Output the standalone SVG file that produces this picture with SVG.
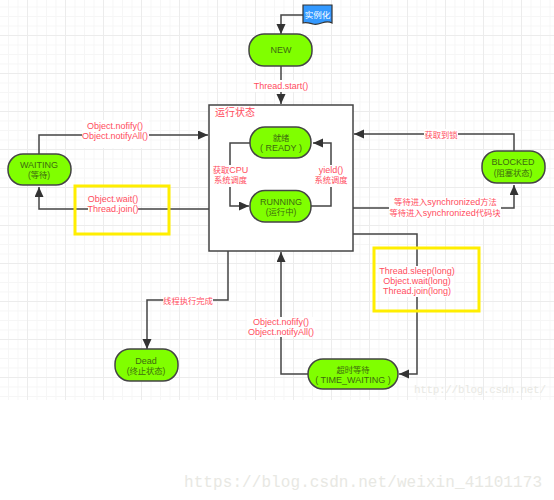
<svg xmlns="http://www.w3.org/2000/svg" width="554" height="500" viewBox="0 0 554 500">
<defs>
<style>
.n{fill:#80ff00;stroke:#444;stroke-width:1.5}
.c{fill:none;stroke:#444;stroke-width:1.5}
.t{font-family:"Liberation Sans","Noto Sans CJK SC",sans-serif;font-size:9px;text-anchor:middle}
.k{font-size:8.3px}
.g{fill:#3d6b10}
.r{fill:#ff4d5e}
.b{fill:#fff;stroke:none}
.wm{font-family:"Liberation Mono",monospace;fill:#e8e8e3}
</style>
<marker id="a" markerUnits="userSpaceOnUse" markerWidth="12" markerHeight="10" refX="10" refY="4.5" orient="auto"><path d="M0 0L10 4.5L0 9Z" fill="#333"/></marker>
<pattern id="fine" x="-1.5" y="6.5" width="9.5" height="9.5" patternUnits="userSpaceOnUse"><path d="M.5 0V9.5M0 .5H9.5" fill="none" stroke="#f6f6f6" stroke-width="1"/></pattern>
<pattern id="major" x="-11" y="-3" width="38" height="38" patternUnits="userSpaceOnUse"><path d="M.5 0V38M0 .5H38" fill="none" stroke="#ececec" stroke-width="1"/></pattern>
</defs>
<rect width="554" height="500" fill="#fff"/>
<rect width="554" height="400" fill="url(#fine)"/>
<rect width="554" height="400" fill="url(#major)"/>
<g id="connectors">
<path class="c" d="M303 15H281V34" marker-end="url(#a)"/>
<path class="c" d="M281 66V104" marker-end="url(#a)"/>
<path class="c" d="M39 154V135H208" marker-end="url(#a)"/>
<path class="c" d="M209 209H39V187" marker-end="url(#a)"/>
<path class="c" d="M514 151V134H354" marker-end="url(#a)"/>
<path class="c" d="M353 208H514V185" marker-end="url(#a)"/>
<path class="c" d="M228 251V300H147V349" marker-end="url(#a)"/>
<path class="c" d="M308 374H281V252" marker-end="url(#a)"/>
<path class="c" d="M353 234H417V374H399" marker-end="url(#a)"/>
</g>
<g id="running-state">
<rect x="209" y="105" width="144" height="146" fill="#fff" stroke="#444" stroke-width="1.5"/>
<text x="215" y="116" font-family="Liberation Sans,Noto Sans CJK SC,sans-serif" font-size="10" fill="#ff4d5e">运行状态</text>
</g>
<g id="inner-connectors">
<path class="c" d="M250 143H230V206H249" marker-end="url(#a)"/>
<path class="c" d="M311 206H331V143H313" marker-end="url(#a)"/>
</g>
<g id="doc">
<path d="M303 5H332V23C325 19 320 26 313 24C309 23 306 22 303 23Z" fill="#3399ff" stroke="#333" stroke-width="1.2"/>
<text class="t" x="317.5" y="18" fill="#fff" style="font-size:8.5px">实例化</text>
</g>
<g id="new"><rect class="n" x="249" y="34" width="63" height="32" rx="15"/><text class="t g" x="281" y="53">NEW</text></g>
<g id="ready"><rect class="n" x="250" y="127" width="61" height="31" rx="15"/><text class="t k g" x="281" y="141">就绪</text><text class="t g" x="281" y="151">( READY )</text></g>
<g id="running"><rect class="n" x="250" y="190.5" width="61" height="31.5" rx="15"/><text class="t g" x="281" y="204.5">RUNNING</text><text class="t k g" x="281" y="215">(运行中)</text></g>
<g id="waiting"><rect class="n" x="8" y="154" width="63" height="31" rx="15"/><text class="t g" x="39" y="168">WAITING</text><text class="t k g" x="39" y="178">(等待)</text></g>
<g id="blocked"><rect class="n" x="482" y="151" width="63" height="32" rx="15"/><text class="t g" x="513" y="165">BLOCKED</text><text class="t k g" x="513" y="176">(阻塞状态)</text></g>
<g id="dead"><rect class="n" x="115" y="349" width="63" height="32" rx="15"/><text class="t g" x="146" y="364">Dead</text><text class="t k g" x="146" y="374">(终止状态)</text></g>
<g id="time-waiting"><rect class="n" x="308" y="359" width="90" height="30" rx="15"/><text class="t k g" x="353" y="373">超时等待</text><text class="t g" x="353" y="383">( TIME_WAITING )</text></g>
<g id="labels">
<rect class="b" x="82" y="120" width="67" height="28"/>
<text class="t r" x="115" y="129">Object.nofify()</text><text class="t r" x="115" y="139">Object.notifyAll()</text>
<rect class="b" x="88" y="203" width="50" height="10"/>
<text class="t r" x="113" y="202">Object.wait()</text><text class="t r" x="113" y="212">Thread.join()</text>
<rect class="b" x="254" y="80" width="54" height="12"/>
<text class="t r" x="281" y="89">Thread.start()</text>
<rect class="b" x="213" y="165" width="34" height="22"/>
<text class="t r" x="230.5" y="173"><tspan class="k">获取</tspan>CPU</text><text class="t k r" x="230.5" y="183">系统调度</text>
<rect class="b" x="315" y="165" width="33" height="22"/>
<text class="t r" x="331" y="173">yield()</text><text class="t k r" x="331" y="183">系统调度</text>
<rect class="b" x="424" y="129" width="34" height="11"/>
<text class="t k r" x="441" y="138">获取到锁</text>
<rect class="b" x="389" y="197" width="112" height="22"/>
<text class="t r" x="445.5" y="205"><tspan class="k">等待进入</tspan>synchronized<tspan class="k">方法</tspan></text><text class="t r" x="445" y="216"><tspan class="k">等待进入</tspan>synchronized<tspan class="k">代码块</tspan></text>
<rect class="b" x="163" y="295" width="50" height="11"/>
<text class="t k r" x="188" y="304">线程执行完成</text>
<rect class="b" x="247" y="317" width="68" height="20"/>
<text class="t r" x="281" y="325">Object.nofify()</text><text class="t r" x="281" y="335">Object.notifyAll()</text>
<rect class="b" x="380" y="266" width="74" height="31"/>
<text class="t r" x="417" y="274">Thread.sleep(long)</text><text class="t r" x="417" y="284">Object.wait(long)</text><text class="t r" x="417" y="294">Thread.join(long)</text>
</g>
<g id="highlights" fill="none" stroke="#ffee00" stroke-width="3">
<rect x="75" y="186" width="94" height="48"/>
<rect x="374" y="248" width="105" height="63"/>
</g>
<text class="wm" x="414" y="393" font-size="11" textLength="132">http://blog.csdn.net/</text>
<text class="wm" x="184" y="487" font-size="16" textLength="358">https://blog.csdn.net/weixin_41101173</text>
</svg>
